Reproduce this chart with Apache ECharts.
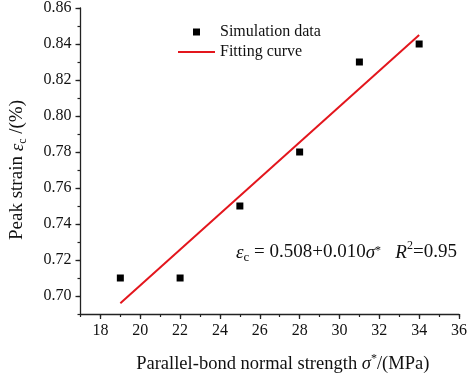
<!DOCTYPE html>
<html>
<head>
<meta charset="utf-8">
<script src="https://cdn.jsdelivr.net/npm/echarts@6/dist/echarts.min.js"></script>
<style>
  html, body { margin: 0; padding: 0; background: #fff; }
  #chart { width: 474px; height: 380px; }
</style>
</head>
<body>
<div id="chart"></div>
<script>
// 数据
var strength = [19, 22, 25, 28, 31, 34];           // 平行粘结法向强度 (MPa)
var peakStrain = [0.71, 0.71, 0.75, 0.78, 0.83, 0.84]; // 峰值应变 (%)
var fitX = [19, 34];
var fitY = [0.696, 0.845];
var seriesNames = ['Simulation data', 'Fitting curve'];

var serif = '"Liberation Serif", "Times New Roman", serif';
var axisColor = '#222';
var red = '#e3161d';

var scatterData = [];
for (var i = 0; i < strength.length; i++) {
     scatterData.push([strength[i], peakStrain[i]]);
}
var fitData = [];
for (var j = 0; j < fitX.length; j++) {
     fitData.push([fitX[j], fitY[j]]);
}

var chart = echarts.init(document.getElementById('chart'));

function richFor(size) {
     return {
          i: { fontFamily: serif, fontSize: size, fontStyle: 'italic', color: '#111' },
          sub: { fontFamily: serif, fontSize: 12, color: '#111', padding: [10, 0, 0, 0] },
          sup: { fontFamily: serif, fontSize: 12, color: '#111', padding: [0, 0, 10, 0] }
     };
}

var option = {
     animation: false,
     grid: {
          left: 76,
          right: 15,
          top: 7,
          bottom: 66
     },
     legend: {
          orient: 'vertical',
          left: 178,
          top: 24,
          padding: 0,
          itemWidth: 37,
          itemHeight: 7,
          itemGap: 4,
          textStyle: { fontFamily: serif, fontSize: 16, color: '#111' },
          data: [
               { name: seriesNames[0], icon: 'path://M0,0H1V1H0Z', itemStyle: { color: '#000' } },
               { name: seriesNames[1], icon: 'path://M0,0H37V2H0Z', itemStyle: { color: red } }
          ]
     },
     xAxis: [{
          type: 'value',
          min: 17,
          max: 36,
          splitNumber: 10,
          name: 'Parallel-bond normal strength {i|σ}{sup|*}/(MPa)',
          nameLocation: 'middle',
          nameGap: 39,
          nameTextStyle: {
               fontFamily: serif,
               fontSize: 18.5,
               color: '#111',
               padding: [0, 0, 0, 26],
               rich: richFor(18.5)
          },
          axisLine: { show: true, lineStyle: { color: axisColor, width: 1.3 } },
          axisTick: { show: true, inside: false, length: 5, lineStyle: { color: axisColor, width: 1.3 } },
          axisLabel: {
               showMinLabel: false,
               margin: 9,
               fontFamily: serif,
               fontSize: 16,
               color: '#111'
          },
          splitLine: { show: false }
     }, {
          // 次刻度
          type: 'value',
          position: 'bottom',
          min: 17,
          max: 36,
          interval: 1,
          axisLine: { show: false },
          axisTick: { show: true, inside: false, length: 3, lineStyle: { color: axisColor, width: 1.2 } },
          axisLabel: { show: false },
          splitLine: { show: false }
     }],
     yAxis: [{
          type: 'value',
          min: 0.69,
          max: 0.86,
          splitNumber: 8,
          name: 'Peak strain {i|ε}{sub|c} /(%)',
          nameLocation: 'middle',
          nameRotate: 90,
          nameGap: 52,
          nameTextStyle: {
               fontFamily: serif,
               fontSize: 19,
               color: '#111',
               padding: [0, 18, 0, 0],
               rich: richFor(19)
          },
          axisLine: { show: true, lineStyle: { color: axisColor, width: 1.3 } },
          axisTick: { show: true, inside: false, length: 5, lineStyle: { color: axisColor, width: 1.3 } },
          axisLabel: {
               showMinLabel: false,
               margin: 9,
               fontFamily: serif,
               fontSize: 16,
               color: '#111',
               formatter: function (v) {
                    return v.toFixed(2);
               }
          },
          splitLine: { show: false }
     }, {
          // 次刻度
          type: 'value',
          position: 'left',
          min: 0.69,
          max: 0.86,
          interval: 0.01,
          axisLine: { show: false },
          axisTick: { show: true, inside: false, length: 3, lineStyle: { color: axisColor, width: 1.2 } },
          axisLabel: { show: false },
          splitLine: { show: false }
     }],
     graphic: [{
          type: 'text',
          left: 236,
          top: 240,
          style: {
               text: '{i|ε}{sub|c} = 0.508+0.010{i|σ}{star|*}   {i|R}{sup|2}=0.95',
               font: '19px ' + serif,
               fill: '#111',
               rich: {
                    i: { fontFamily: serif, fontSize: 19, fontStyle: 'italic', fill: '#111' },
                    sub: { fontFamily: serif, fontSize: 13, fill: '#111', padding: [11, 0, 0, 0] },
                    sup: { fontFamily: serif, fontSize: 12, fill: '#111', padding: [0, 0, 13, 0] },
                    star: { fontFamily: serif, fontSize: 12, fill: '#111', padding: [0, 0, 4, 0] }
               }
          }
     }],
     series: [{
          name: seriesNames[0],
          type: 'scatter',
          xAxisIndex: 0,
          yAxisIndex: 0,
          symbol: 'rect',
          symbolSize: 7,
          itemStyle: { color: '#000', opacity: 1 },
          data: scatterData,
          z: 3
     }, {
          name: seriesNames[1],
          type: 'line',
          xAxisIndex: 0,
          yAxisIndex: 0,
          symbol: 'none',
          showSymbol: false,
          lineStyle: { color: red, width: 2 },
          itemStyle: { color: red },
          data: fitData,
          z: 2
     }]
};

chart.setOption(option);
</script>
</body>
</html>
